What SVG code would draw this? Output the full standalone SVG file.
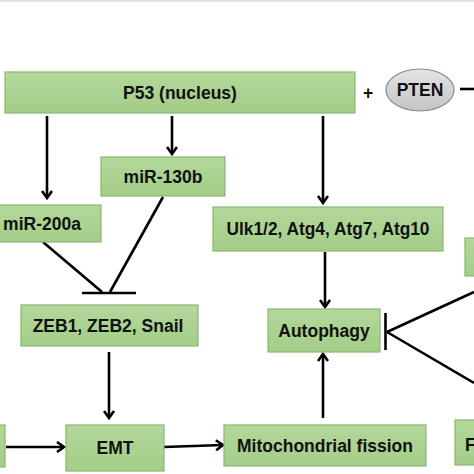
<svg xmlns="http://www.w3.org/2000/svg" width="474" height="474" viewBox="0 0 474 474">
<defs>
<linearGradient id="g" x1="0" y1="0" x2="0" y2="1">
<stop offset="0" stop-color="#b3d89b"/>
<stop offset="1" stop-color="#a3cd88"/>
</linearGradient>
<linearGradient id="gg" x1="0" y1="0" x2="0" y2="1">
<stop offset="0" stop-color="#e4e4e4"/>
<stop offset="1" stop-color="#c4c4c4"/>
</linearGradient>
<marker id="ar" markerWidth="12" markerHeight="12" refX="9" refY="6" orient="auto" markerUnits="userSpaceOnUse">
<polyline points="2,1 9,6 2,11" fill="none" stroke="#000" stroke-width="2.6"/>
</marker>
</defs>
<style>
.box{fill:url(#g);stroke:#8ab672;stroke-width:1.2}
.t{font-family:"Liberation Sans",Arial,sans-serif;font-weight:bold;font-size:17.5px;fill:#111;text-anchor:middle}
.c{stroke:#000;stroke-width:2.6;fill:none}
</style>
<rect x="0" y="0" width="474" height="474" fill="#fff"/>
<rect x="0" y="0" width="474" height="2" fill="#e2e2e2"/>
<g id="connectors">
<line class="c" x1="47" y1="116" x2="47" y2="198" marker-end="url(#ar)"/>
<line class="c" x1="172" y1="116" x2="172" y2="154" marker-end="url(#ar)"/>
<line class="c" x1="323" y1="116" x2="323" y2="203" marker-end="url(#ar)"/>
<line class="c" x1="325" y1="252" x2="325" y2="307" marker-end="url(#ar)"/>
<line class="c" x1="43" y1="242" x2="102" y2="292"/>
<line class="c" x1="163" y1="197" x2="110" y2="292"/>
<line class="c" x1="82" y1="293" x2="136" y2="293"/>
<line class="c" x1="109" y1="352" x2="109" y2="418" marker-end="url(#ar)"/>
<line class="c" x1="6" y1="447" x2="64" y2="447" marker-end="url(#ar)"/>
<line class="c" x1="164" y1="447" x2="223" y2="445" marker-end="url(#ar)"/>
<line class="c" x1="323" y1="418" x2="323" y2="354" marker-end="url(#ar)"/>
<line class="c" x1="474" y1="292" x2="387" y2="332"/>
<line class="c" x1="387" y1="332" x2="474" y2="383"/>
<line class="c" x1="385.5" y1="313" x2="385.5" y2="350"/>
<line class="c" x1="460" y1="89" x2="474" y2="89"/>
</g>
<g id="p53"><rect class="box" x="5" y="72" width="350" height="41"/><text class="t" x="180" y="99">P53 (nucleus)</text></g>
<g id="plus"><text class="t" x="368" y="99">+</text></g>
<g id="pten"><ellipse cx="420" cy="90" rx="34" ry="21" fill="url(#gg)" stroke="#7a8ea0" stroke-width="1.2"/><text class="t" x="420" y="96">PTEN</text></g>
<g id="mir130b"><rect class="box" x="101" y="157" width="124" height="39"/><text class="t" x="163" y="183">miR-130b</text></g>
<g id="mir200a"><rect class="box" x="-20" y="205" width="121" height="37"/><text class="t" x="42" y="230">miR-200a</text></g>
<g id="ulk"><rect class="box" x="213" y="207" width="230" height="44"/><text class="t" x="328" y="235" textLength="203" lengthAdjust="spacingAndGlyphs">Ulk1/2, Atg4, Atg7, Atg10</text></g>
<g id="zeb"><rect class="box" x="21" y="305" width="177" height="41"/><text class="t" x="108" y="332">ZEB1, ZEB2, Snail</text></g>
<g id="autophagy"><rect class="box" x="268" y="309" width="112" height="43"/><text class="t" x="324" y="337">Autophagy</text></g>
<g id="emt"><rect class="box" x="66" y="425" width="98" height="46"/><text class="t" x="115" y="454">EMT</text></g>
<g id="mito"><rect class="box" x="224" y="425" width="202" height="41"/><text class="t" x="325" y="452" textLength="176" lengthAdjust="spacingAndGlyphs">Mitochondrial fission</text></g>
<g id="left"><rect class="box" x="-20" y="425" width="25" height="42"/></g>
<g id="topright"><rect class="box" x="465" y="238" width="30" height="38"/></g>
<g id="bottomright"><rect class="box" x="455" y="420" width="40" height="45"/><text class="t" x="465" y="451" style="text-anchor:start">F</text></g>
</svg>
